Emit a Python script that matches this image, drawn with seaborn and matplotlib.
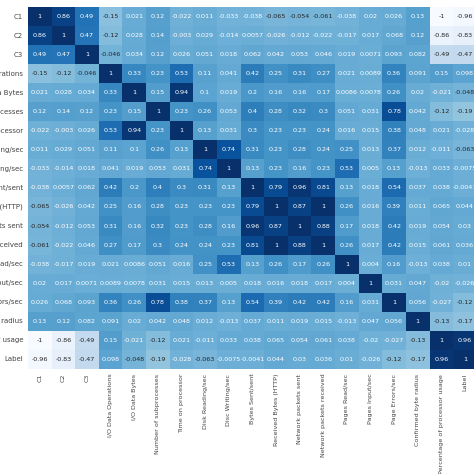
import numpy as np
import pandas as pd
import matplotlib
matplotlib.use("Agg")
import matplotlib.pyplot as plt
import seaborn as sns

labels = ["C1", "C2", "C3", "I/O Data Operations", "I/O Data Bytes",
          "Number of subprocesses", "Time on processor", "Disk Reading/sec",
          "Disc Writing/sec", "Bytes Sent/sent", "Received Bytes (HTTP)",
          "Network packets sent", "Network packets received", "Pages Read/sec",
          "Pages Input/sec", "Page Errors/sec", "Confirmed byte radius",
          "Percentage of processor usage", "Label"]

# upper triangle of the correlation matrix, row by row
upper = [
    [1, 0.86, 0.49, -0.15, 0.021, 0.12, -0.022, 0.011, -0.033, -0.038, -0.065, -0.054, -0.061, -0.038, 0.02, 0.026, 0.13, -1, -0.96],
    [1, 0.47, -0.12, 0.028, 0.14, -0.003, 0.029, -0.014, 0.0057, -0.026, -0.012, -0.022, -0.017, 0.017, 0.068, 0.12, -0.86, -0.83],
    [1, -0.046, 0.034, 0.12, 0.026, 0.051, 0.018, 0.062, 0.042, 0.053, 0.046, 0.019, 0.0071, 0.093, 0.082, -0.49, -0.47],
    [1, 0.33, 0.23, 0.53, 0.11, 0.041, 0.42, 0.25, 0.31, 0.27, 0.021, 0.0089, 0.36, 0.091, 0.15, 0.098],
    [1, 0.15, 0.94, 0.1, 0.019, 0.2, 0.16, 0.16, 0.17, 0.0086, 0.0078, 0.26, 0.02, -0.021, -0.048],
    [1, 0.23, 0.26, 0.053, 0.4, 0.28, 0.32, 0.3, 0.051, 0.031, 0.78, 0.042, -0.12, -0.19],
    [1, 0.13, 0.031, 0.3, 0.23, 0.23, 0.24, 0.016, 0.015, 0.38, 0.048, 0.021, -0.028],
    [1, 0.74, 0.31, 0.23, 0.28, 0.24, 0.25, 0.013, 0.37, 0.012, -0.011, -0.063],
    [1, 0.13, 0.23, 0.16, 0.23, 0.53, 0.005, 0.13, -0.013, 0.033, -0.0075],
    [1, 0.79, 0.96, 0.81, 0.13, 0.018, 0.54, 0.037, 0.038, -0.0041],
    [1, 0.87, 1, 0.26, 0.016, 0.39, 0.011, 0.065, 0.044],
    [1, 0.88, 0.17, 0.018, 0.42, 0.019, 0.054, 0.03],
    [1, 0.26, 0.017, 0.42, 0.015, 0.061, 0.036],
    [1, 0.004, 0.16, -0.013, 0.038, 0.01],
    [1, 0.031, 0.047, -0.02, -0.026],
    [1, 0.056, -0.027, -0.12],
    [1, -0.13, -0.17],
    [1, 0.96],
    [1],
]

n = len(labels)
mat = np.zeros((n, n))
for i, row in enumerate(upper):
    for k, v in enumerate(row):
        j = i + k
        mat[i, j] = v
        mat[j, i] = v
corr = pd.DataFrame(mat, index=labels, columns=labels)

sns.set_theme(style="white")
fig = plt.figure(figsize=(4.74, 4.74), dpi=100)
ax = fig.add_axes([0.059, 0.222, 0.947, 0.763])
sns.heatmap(corr, annot=True, fmt=".2g", cmap="Blues", vmin=-1, vmax=1,
            cbar=False, ax=ax, annot_kws={"size": 4.6})
ax.tick_params(axis="both", labelsize=5, colors="#444444", length=0)
ax.tick_params(axis="x", labelsize=4.6)
plt.setp(ax.get_xticklabels(), rotation=90)
plt.setp(ax.get_yticklabels(), rotation=0)

fig.savefig("out.png", dpi=100)
